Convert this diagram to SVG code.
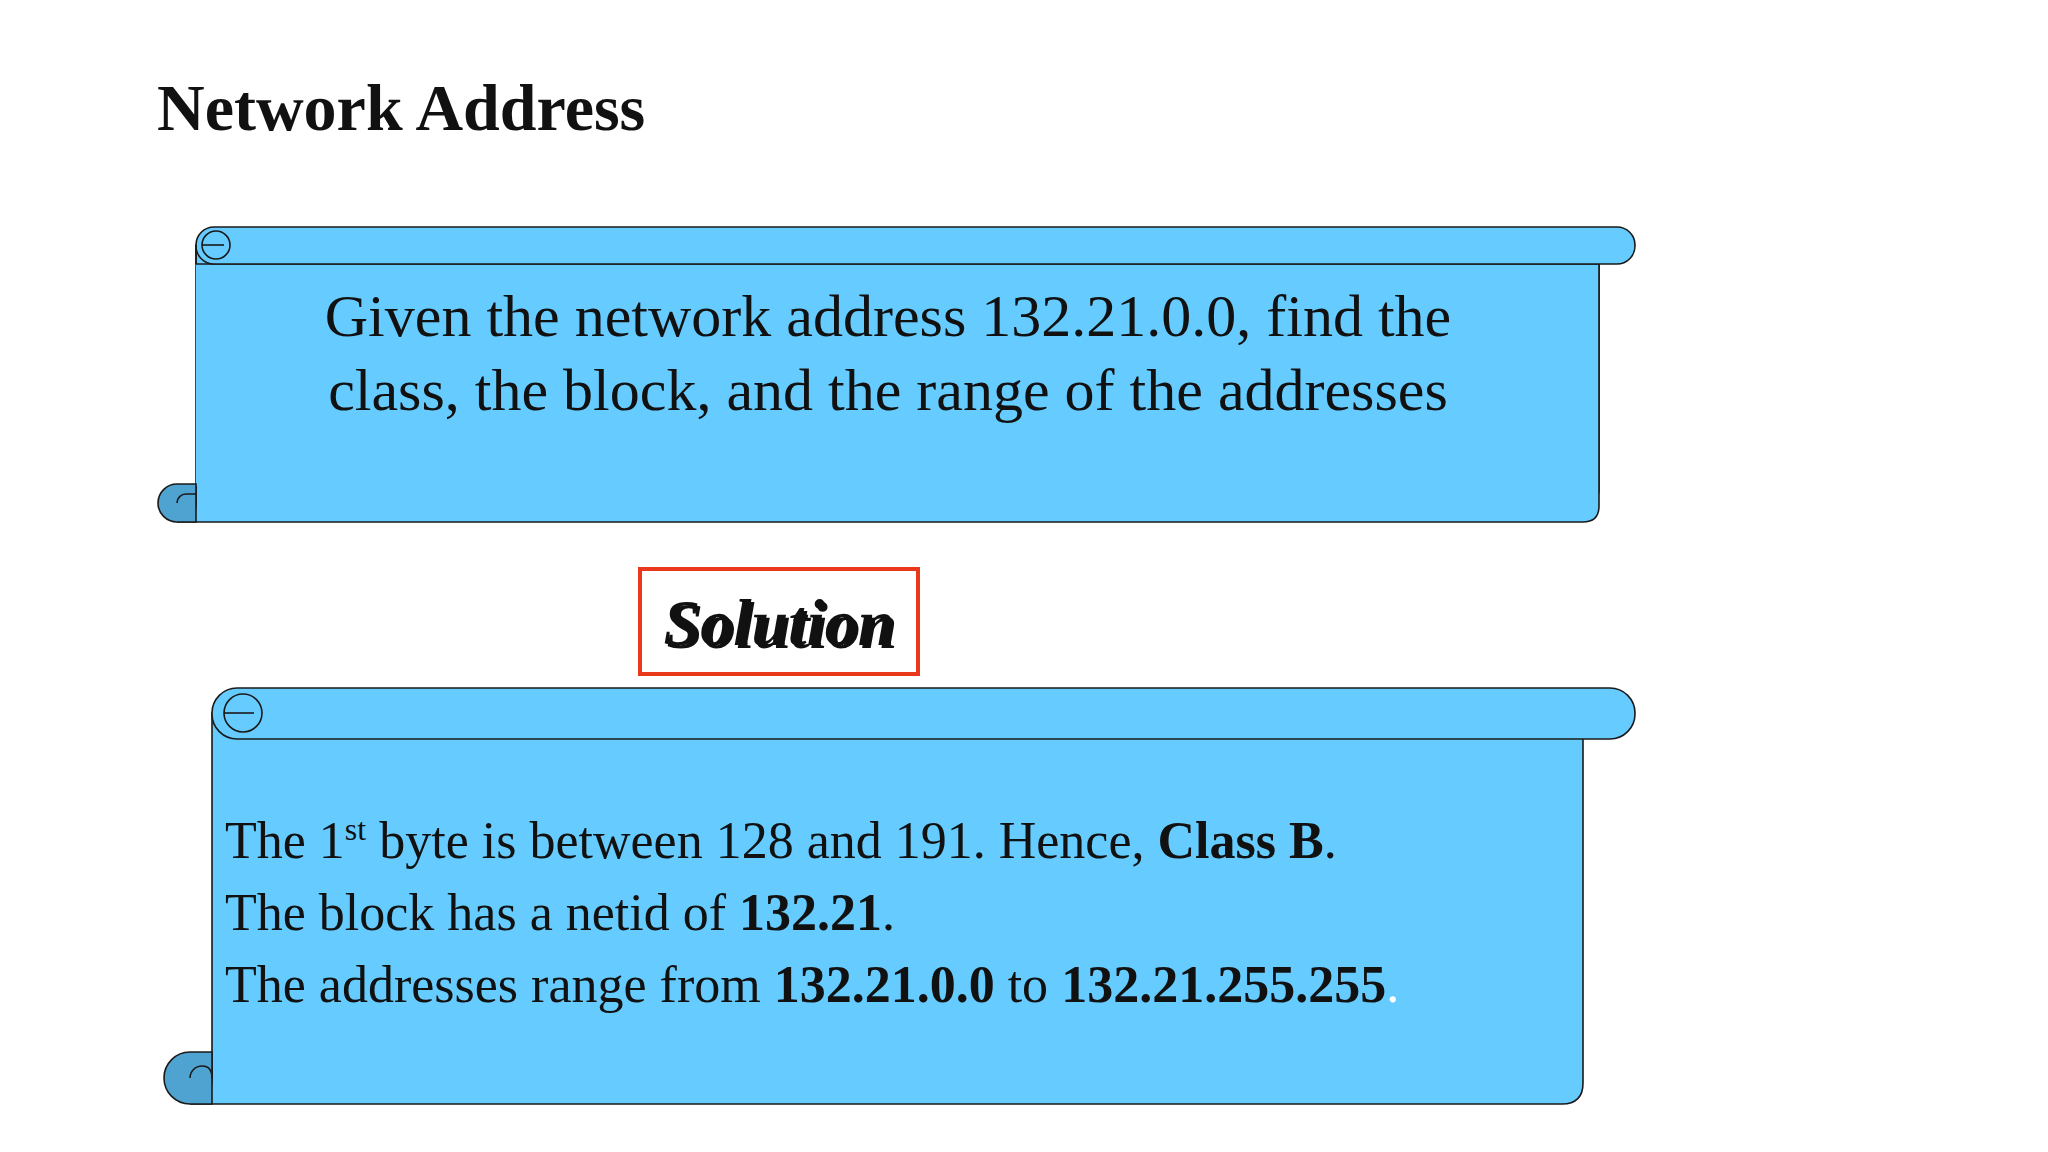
<svg xmlns="http://www.w3.org/2000/svg" width="2048" height="1152" viewBox="0 0 2048 1152">
<style>
.s{fill:#66CCFF;stroke:#1a1a1a;stroke-width:1.6}
.d{fill:#4FA3D0;stroke:#1a1a1a;stroke-width:1.6}
.n{fill:none;stroke:#1a1a1a;stroke-width:1.6}
.t{font-family:"Liberation Serif",serif;fill:#111}
</style>
<rect width="2048" height="1152" fill="#fff"/>
<text x="157" y="130" class="t" font-size="66" font-weight="bold">Network Address</text>
<g id="scroll1">
<path class="s" d="M196,245 V504 H1583 Q1599,504 1599,490 V245 Z" />
<path class="s" d="M196,486 V504 Q196,522 177,522 H1583 Q1599,522 1599,506 V264 H196"/>
<path class="d" d="M177,522 A19,19 0 0 1 177,484 H196 V522 Z"/>
<path class="n" d="M177,503 A9,9 0 0 1 186,494 H196"/>
<rect class="s" x="196" y="227" width="1439" height="37" rx="18"/>
<path class="s" d="M196,245 V264"/>
<circle class="s" cx="216" cy="245" r="14"/>
<path class="n" d="M202,245 H224"/>
<text x="888" y="336" class="t" font-size="60" text-anchor="middle">Given the network address 132.21.0.0, find the</text>
<text x="888" y="410" class="t" font-size="60" text-anchor="middle">class, the block, and the range of  the addresses</text>
</g>
<g id="solution">
<rect x="640" y="569" width="278" height="105" fill="#fff" stroke="#E8391A" stroke-width="4"/>
<text x="779" y="645" class="t" font-size="66" font-weight="bold" font-style="italic" text-anchor="middle" fill="#999" transform="translate(3,3)">Solution</text>
<text x="779" y="645" class="t" font-size="66" font-weight="bold" font-style="italic" text-anchor="middle">Solution</text>
</g>
<g id="scroll2">
<path class="s" d="M212,713 V1078 Q212,1104 190,1104 H1562 Q1583,1104 1583,1083 V713 Z"/>
<path class="d" d="M190,1104 A26,26 0 0 1 190,1052 H212 V1104 Z"/>
<path class="n" d="M190,1078 A12,12 0 0 1 202,1066 Q212,1066 212,1078"/>
<rect class="s" x="212" y="688" width="1423" height="51" rx="25"/>
<circle class="s" cx="243" cy="713" r="19"/>
<path class="n" d="M224,713 H254"/>
<text x="225" y="858" class="t" font-size="52">The 1<tspan font-size="32" dy="-18">st</tspan><tspan dy="18"> byte is between 128 and 191. Hence, </tspan><tspan font-weight="bold">Class B</tspan>.</text>
<text x="225" y="930" class="t" font-size="52">The block has a netid of  <tspan font-weight="bold">132.21</tspan>.</text>
<text x="225" y="1002" class="t" font-size="52">The addresses range from <tspan font-weight="bold">132.21.0.0</tspan> to <tspan font-weight="bold">132.21.255.255</tspan><tspan fill="#fff">.</tspan></text>
</g>
</svg>
